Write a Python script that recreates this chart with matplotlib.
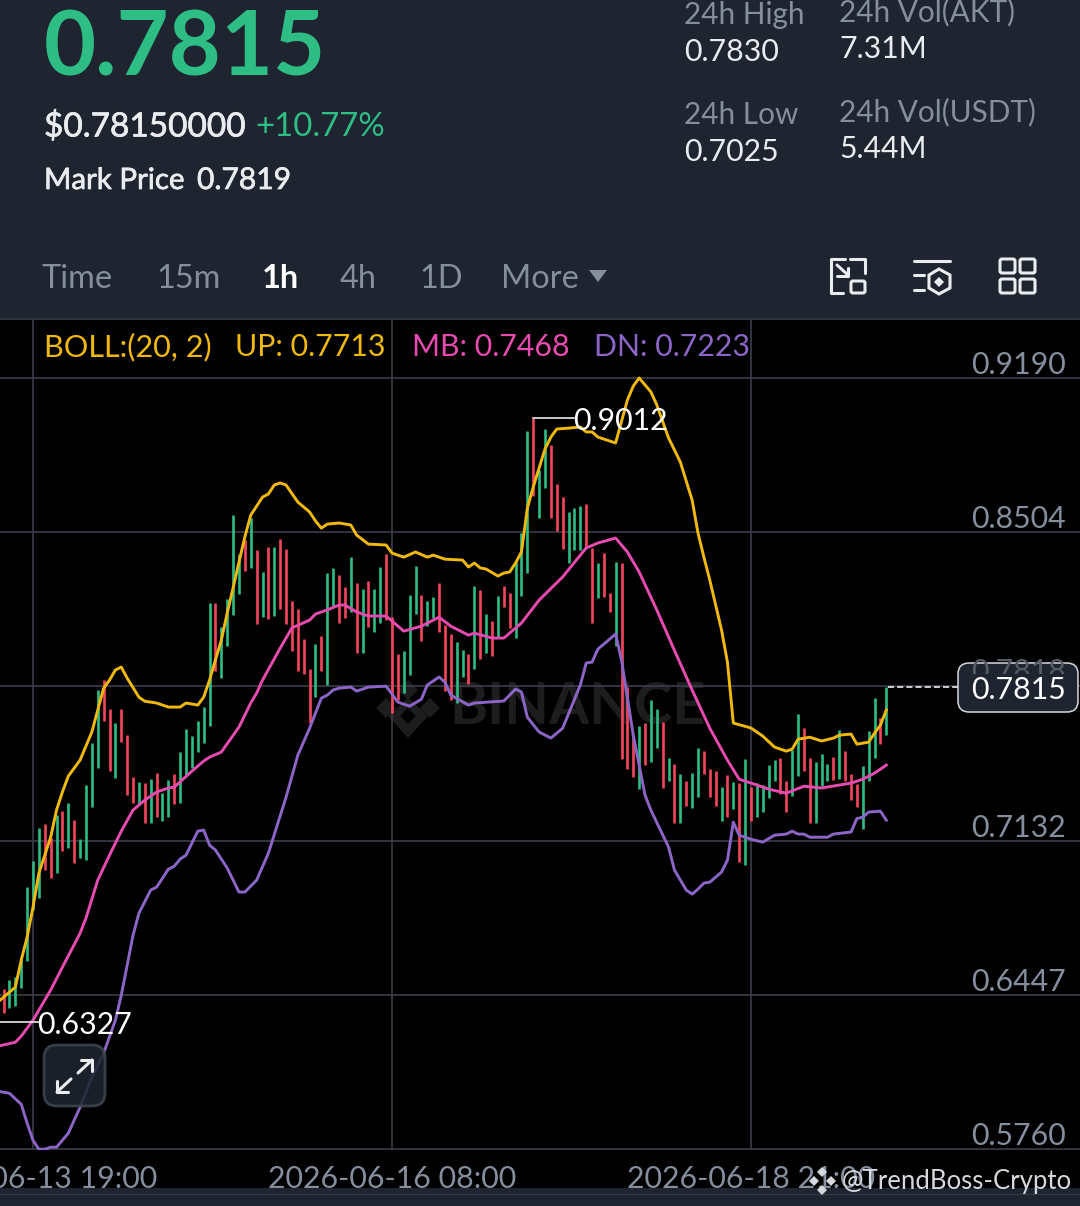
import numpy as np
import matplotlib
matplotlib.use('Agg')
from matplotlib import pyplot as plt
from matplotlib import patheffects
from matplotlib.patches import FancyBboxPatch, Rectangle, Polygon

# candles, one per hour, first one is 5h before the 06-13 19:00 grid line
first_hour = -5
highs = [.6471,.6511,.6524,.6613,.6925,.7041,.7188,.7205,.7143,.7245,.7263,.7299,.7223,.7139,.7379,.7566,.7802,
         .7847,.7717,.7655,.7717,.7601,.7414,.7392,.7388,.7405,.7432,.7343,.7401,.7428,.7526,.7628,.7597,.7664,
         .7726,.8189,.8189,.8082,.8207,.8580,.8407,.8469,.8567,.8425,.8327,.8438,.8438,.8473,.8429,.8198,.8162,
         .8029,.7895,.8006,.8042,.8322,.8344,.8313,.8260,.8393,.8278,.8251,.8287,.8251,.8349,.8407,.8126,.7962,
         .7975,.8224,.8353,.8224,.8198,.8215,.8278,.8091,.8051,.8015,.7980,.7962,.8264,.8247,.8140,.8109,.8220,
         .8264,.8233,.8371,.8501,.8954,.9012,.8781,.8963,.8892,.8718,.8660,.8594,.8611,.8620,.8629,.8434,.8367,
         .8411,.8233,.8371,.8367,.7815,.7601,.7641,.7655,.7757,.7717,.7659,.7499,.7472,.7428,.7396,.7432,.7543,
         .7530,.7450,.7441,.7370,.7423,.7392,.7388,.7495,.7370,.7388,.7379,.7468,.7490,.7499,.7397,.7535,.7695,
         .7633,.7499,.7481,.7517,.7472,.7505,.7624,.7530,.7428,.7383,.7463,.7619,.7766,.7677,.7815]
lows = [.6364,.6386,.6395,.6476,.6596,.6823,.6876,.7001,.6965,.6987,.7085,.7100,.7032,.7054,.7046,.7281,.7455,
        .7664,.7441,.7410,.7570,.7334,.7299,.7294,.7210,.7210,.7236,.7219,.7236,.7294,.7299,.7423,.7455,.7526,
        .7566,.7642,.7886,.7855,.7997,.8135,.8229,.8331,.8345,.8095,.8126,.8117,.8131,.8162,.8095,.7975,.7886,
        .7873,.7655,.7770,.7886,.7824,.8171,.8100,.8122,.8149,.7966,.7966,.8082,.8059,.8100,.8113,.7699,.7757,
        .7788,.7868,.8140,.8020,.8086,.8122,.8059,.7797,.7757,.7744,.7859,.7828,.7895,.7939,.7966,.7953,.8038,
        .8171,.8078,.8033,.8220,.8322,.8667,.8567,.8700,.8567,.8509,.8429,.8367,.8425,.8425,.8438,.8100,.8211,
        .8215,.8149,.7997,.7495,.7450,.7414,.7361,.7468,.7481,.7546,.7365,.7396,.7210,.7210,.7285,.7276,.7325,
        .7428,.7325,.7285,.7219,.7236,.7272,.7036,.7023,.7219,.7236,.7259,.7321,.7396,.7341,.7259,.7332,.7419,
        .7441,.7210,.7210,.7374,.7396,.7401,.7407,.7396,.7312,.7281,.7183,.7396,.7499,.7561,.7601]
candle_dirs = ['R','G','G','G','G','G','G','R','R','G','R','G','R','G','G','G','G',
               'R','R','G','R','R','R','G','R','G','R','G','G','R','G','G','G','G',
               'G','G','R','G','G','G','G','R','G','R','G','R','G','R','R','R','R',
               'R','R','G','R','G','G','R','R','G','R','G','R','G','G','R','R','R',
               'G','G','G','R','G','G','R','R','R','G','G','R','G','R','G','R','G',
               'R','R','G','G','G','R','G','G','R','R','R','G','G','G','R','R','G',
               'R','R','G','R','R','R','G','R','G','G','R','G','R','G','R','G','G',
               'R','R','R','G','R','G','R','G','R','G','G','G','G','R','R','G','G',
               'R','R','G','G','G','R','G','R','R','R','G','G','G','R','G']

up_hours = [-6,-3,-2,-1,0,1,3,4,5,6,8,10,12,13,14,15,16,18,19,21,23,25,26,28,29,30,31,32,33,34,35,36,37,39,40,41,42,43,
            45,47,48,49,50,52,54,55,57,60,61,63,65,67,68,70,73,74,75,76,77,79,80,81,82,83,84,85,87,88,89,91,93,94,95,96,
            99,101,102,103,105,106,108,110,112,113,114,115,117,118,119,122,124,126,128,129,130,132,134,136,137,139,140,
            142,143,144,145]
up_band = [.6413,.6480,.6600,.6702,.6836,.6987,.7147,.7268,.7348,.7419,.7490,.7615,.7810,.7846,.7891,.7904,.7855,.7770,
           .7752,.7744,.7726,.7726,.7744,.7735,.7770,.7846,.7935,.8024,.8144,.8256,.8371,.8483,.8580,.8660,.8674,.8714,
           .8723,.8714,.8638,.8594,.8554,.8522,.8540,.8545,.8536,.8491,.8451,.8447,.8411,.8393,.8416,.8393,.8402,.8384,
           .8380,.8349,.8367,.8345,.8340,.8309,.8322,.8327,.8367,.8416,.8611,.8705,.8874,.8927,.8963,.8967,.8972,.8950,
           .8950,.8927,.8901,.9092,.9154,.9190,.9128,.9070,.8923,.8816,.8647,.8500,.8393,.8291,.8069,.7926,.7655,.7633,
           .7597,.7548,.7530,.7539,.7583,.7592,.7575,.7588,.7601,.7606,.7561,.7570,.7610,.7646,.7713]
mb_hours = [-6,-3,-2,0,3,5,8,9,11,13,15,17,19,21,23,24,27,29,30,32,35,37,38,39,42,44,47,48,50,52,53,55,57,60,63,66,69,71,
            74,75,78,80,83,86,90,94,96,99,101,103,106,109,112,115,118,120,122,125,128,131,134,137,139,141,143,145]
mb_band = [.6217,.6235,.6262,.6333,.6467,.6569,.6720,.6787,.6956,.7067,.7174,.7268,.7312,.7348,.7366,.7370,.7441,.7486,
           .7503,.7526,.7637,.7744,.7788,.7846,.7988,.8078,.8113,.8140,.8158,.8180,.8180,.8149,.8131,.8131,.8064,.8086,
           .8126,.8086,.8046,.8055,.8033,.8033,.8100,.8202,.8305,.8434,.8456,.8478,.8416,.8327,.8158,.7978,.7802,.7632,
           .7490,.7405,.7388,.7361,.7343,.7374,.7366,.7379,.7388,.7405,.7432,.7468]
dn_hours = [-6,-4,-2,-1,0,1,2,3,4,6,8,10,12,14,15,17,18,20,21,23,24,25,26,28,29,30,31,33,35,36,38,40,43,45,47,49,50,51,52,
            54,55,57,60,62,64,66,67,69,70,71,74,75,80,82,83,84,86,88,90,93,94,95,96,99,100,102,104,105,108,109,111,112,
            113,114,115,117,118,119,120,122,124,126,128,129,130,131,132,135,136,139,140,141,142,144,145]
dn_band = [.6017,.6008,.5959,.5875,.5799,.5759,.5759,.5768,.5768,.5830,.5946,.6080,.6186,.6333,.6444,.6711,.6809,.6912,
           .6925,.7005,.7018,.7050,.7067,.7174,.7179,.7112,.7090,.7010,.6903,.6903,.6956,.7076,.7325,.7512,.7632,.7766,
           .7779,.7802,.7810,.7815,.7797,.7815,.7819,.7748,.7730,.7761,.7824,.7860,.7837,.7779,.7735,.7744,.7753,.7806,
           .7793,.7681,.7615,.7588,.7632,.7824,.7922,.7926,.7984,.8051,.7935,.7601,.7334,.7267,.7103,.7001,.6912,.6894,
           .6916,.6943,.6947,.6992,.7045,.7214,.7156,.7138,.7125,.7156,.7161,.7174,.7161,.7161,.7147,.7147,.7161,.7170,
           .7230,.7236,.7259,.7263,.7223]

# axis labels
price_ticks = [0.9190, 0.8504, 0.7818, 0.7132, 0.6447, 0.5760]
date_hours = [0, 61, 122]
date_labels = ['2026-06-13 19:00', '2026-06-16 08:00', '2026-06-18 21:00']
last_price = 0.7815
low_price = 0.6327

# header numbers
stats = [('24h High', '0.7830', 684, 13, 51), ('24h Vol(AKT)', '7.31M', 839, 10, 48),
         ('24h Low', '0.7025', 684, 113, 151), ('24h Vol(USDT)', '5.44M', 839, 110, 148)]
tabs = [('Time', 42), ('15m', 156), ('1h', 262), ('4h', 340), ('1D', 419), ('More', 501)]

GREEN = '#2EBD85'
RED = '#F6465D'
YELLOW = '#F0B90B'
PINK = '#E84BB0'
PURPLE = '#8B66C7'
PANEL = '#1E2530'
GRID = '#3A3E4A'
GREY = '#848E9C'
WHITE = '#EAECEF'

plt.rcParams['font.family'] = ['Lato', 'DejaVu Sans']
W, H = 1080, 1206
fig = plt.figure(figsize=(W / 100, H / 100), dpi=100, facecolor='black')


def pixel_axes(zorder):
    a = fig.add_axes([0, 0, 1, 1], zorder=zorder)
    a.set_xlim(0, W)
    a.set_ylim(H, 0)
    a.axis('off')
    return a


def px(size):
    return size * 0.72


def label(x, y, s, color, size=30.3, heavy=False, **kw):
    # Lato sits about 3px high when centred
    t = ui.text(x, y + 3, s, color=color, fontsize=px(size), va='center', **kw)
    if heavy:
        t.set_path_effects([patheffects.withStroke(linewidth=0.5, foreground=color)])
    return t


back = pixel_axes(0)
ui = pixel_axes(2)

# backgrounds
back.add_patch(Rectangle((0, 0), W, 318, color=PANEL, lw=0))
back.add_patch(Rectangle((0, 318), W, 2, color='#2B3139', lw=0))
back.add_patch(Rectangle((0, 1188), W, 18, color=PANEL, lw=0))
back.add_patch(Rectangle((0, 1194), W, 1, color='#343A45', lw=0))

# big watermark under the candles
WM = '#1D1D1D'
back.text(578, 708, 'BINANCE', color=WM, fontsize=px(58), fontweight='bold', ha='center', va='center')
for cx, cy in [(386, 708), (430, 708), (408, 690)]:
    back.add_patch(Polygon([(cx, cy - 10), (cx + 10, cy), (cx, cy + 10), (cx - 10, cy)], color=WM, lw=0))
back.add_patch(Polygon([(388, 716), (408, 698), (428, 716), (408, 738)], color=WM, lw=0))
back.add_patch(Polygon([(408, 708), (416, 716), (408, 724), (400, 716)], color='black', lw=0))

# chart
top_px, bottom_px = 320, 1150
ax = fig.add_axes([0, 1 - bottom_px / H, 1, (bottom_px - top_px) / H], zorder=1)
ax.patch.set_alpha(0)
hour_px = 5.885
ax.set_xlim(-33 / hour_px, (W - 33) / hour_px)
price_px = (0.9190 - 0.5760) / 771
ax.set_ylim(0.9190 - (bottom_px - 378) * price_px, 0.9190 + (378 - top_px) * price_px)
ax.axis('off')

for p in price_ticks:
    ax.axhline(p, color=GRID, lw=1.2, zorder=1)
    if p != 0.7818:
        label(1066, 378 + (0.9190 - p) / price_px - 16, '%.4f' % p, GREY, ha='right')
for h, lab in zip(date_hours, date_labels):
    ax.axvline(h, color=GRID, lw=1.2, zorder=1)
    label(33 + h * hour_px, 1176, lab, GREY, ha='center')

hours = first_hour + np.arange(len(highs))
colors = [GREEN if d == 'G' else RED for d in candle_dirs]
ax.vlines(hours, lows, highs, colors=colors, lw=1.9, zorder=2)
ax.plot(up_hours, up_band, color=YELLOW, lw=2.1, zorder=3)
ax.plot(mb_hours, mb_band, color=PINK, lw=2.1, zorder=3)
ax.plot(dn_hours, dn_band, color=PURPLE, lw=2.1, zorder=3)

# high and low markers
top_i = int(np.argmax(highs))
ax.plot([hours[top_i], hours[top_i] + 7], [highs[top_i]] * 2, color='white', lw=1.1, zorder=4)
ax.annotate('%.4f' % highs[top_i], (hours[top_i] + 7, highs[top_i]), xytext=(-1, -2.2), textcoords='offset points',
            color='white', fontsize=px(30.3), va='center', zorder=4)
ax.plot([-6, 1], [low_price] * 2, color='white', lw=1.1, zorder=4)
ax.annotate('%.4f' % low_price, (1, low_price), xytext=(-1, -2.2), textcoords='offset points',
            color='white', fontsize=px(30.3), va='center', zorder=4)

# last price line and tag, the old axis label peeks out behind the tag
ax.plot([hours[-1] + 0.2, (958 - 33) / hour_px], [last_price] * 2, color='white', lw=1.1, ls=(0, (4, 2)), zorder=4)
ui.add_patch(FancyBboxPatch((958, 663), 120, 49, boxstyle='round,pad=0,rounding_size=11',
                            fc=PANEL, ec='#D5D8DC', lw=1.1, zorder=1))
label(1066, 669, '0.7818', '#555B64', ha='right', zorder=2)
label(1066, 687, '%.4f' % last_price, 'white', ha='right', zorder=3,
      bbox=dict(fc=PANEL, ec='none', pad=1))

# legend line
label(44, 344, 'BOLL:(20, 2)', YELLOW, size=30.6)
label(235, 344, 'UP: %.4f' % up_band[-1], YELLOW)
label(412, 344, 'MB: %.4f' % mb_band[-1], PINK)
label(594, 344, 'DN: %.4f' % dn_band[-1], PURPLE)

# header
ui.text(44, 50, '0.7815', color=GREEN, fontsize=px(90), fontweight='bold', va='center')
label(44, 124, '$0.78150000', WHITE, size=33.4, heavy=True)
label(255, 124, '+10.77%', GREEN, size=33)
label(44, 177, 'Mark Price', WHITE, size=29.5, heavy=True)
label(197, 177, '0.7819', WHITE, size=30, heavy=True)
for name, val, x, y1, y2 in stats:
    label(x, y1 - 1, name, GREY, size=29.8)
    label(x, y2 - 2, val, WHITE)
for name, x in tabs:
    on = name == '1h'
    ui.text(x, 279, name, color='white' if on else GREY, fontsize=px(32.5), fontweight='bold' if on else 'normal', va='center')
ui.add_patch(Polygon([(589, 270), (607, 270), (598, 282)], color=GREY, lw=0))

# toolbar icons
ic = dict(color=WHITE, lw=2.2, solid_capstyle='round')
ui.plot([845, 831, 831, 843], [259, 259, 293, 293], **ic)
ui.plot([850, 865, 865], [259, 259, 273], **ic)
ui.plot([837, 848], [265, 275], **ic)
ui.plot([848, 848, 837], [268, 276, 276], **ic)
ui.add_patch(FancyBboxPatch((851, 281), 14, 12, boxstyle='round,pad=0,rounding_size=2', fc='none', ec=WHITE, lw=2.2))
ui.plot([914, 950], [261, 261], **ic)
ui.plot([914, 924], [275, 275], **ic)
ui.plot([914, 924], [290, 290], **ic)
ui.add_patch(Polygon([(939, 269), (950, 275), (950, 288), (939, 294), (929, 288), (929, 275)], fc='none', ec=WHITE, lw=2.2))
ui.add_patch(Polygon([(939, 277), (944, 282), (939, 287), (934, 282)], color=WHITE, lw=0))
for bx, by in [(1000, 259), (1020, 259), (1000, 279), (1020, 279)]:
    ui.add_patch(FancyBboxPatch((bx, by), 15, 14, boxstyle='round,pad=0,rounding_size=2', fc='none', ec=WHITE, lw=2.2))

# expand button
ui.add_patch(FancyBboxPatch((44, 1045), 61, 61, boxstyle='round,pad=0,rounding_size=13',
                            fc=PANEL, ec='#3F4550', lw=2, alpha=0.88))
ar = dict(color=WHITE, lw=2.2, solid_capstyle='round')
ui.plot([78, 92], [1073, 1060], **ar)
ui.plot([81, 92, 92], [1060, 1060, 1071], **ar)
ui.plot([71, 57], [1079, 1092], **ar)
ui.plot([57, 57, 68], [1081, 1092, 1092], **ar)

# corner credit
label(842, 1178, '@TrendBoss-Crypto', '#D5D8DC', size=25.8, zorder=5)
for cx, cy in [(814, 1181), (831, 1181), (822, 1172), (822, 1190)]:
    ui.add_patch(Polygon([(cx, cy - 5), (cx + 5, cy), (cx, cy + 5), (cx - 5, cy)], color='#D5D8DC', lw=0, zorder=5))

fig.savefig('out.png', dpi=100, facecolor='black')
